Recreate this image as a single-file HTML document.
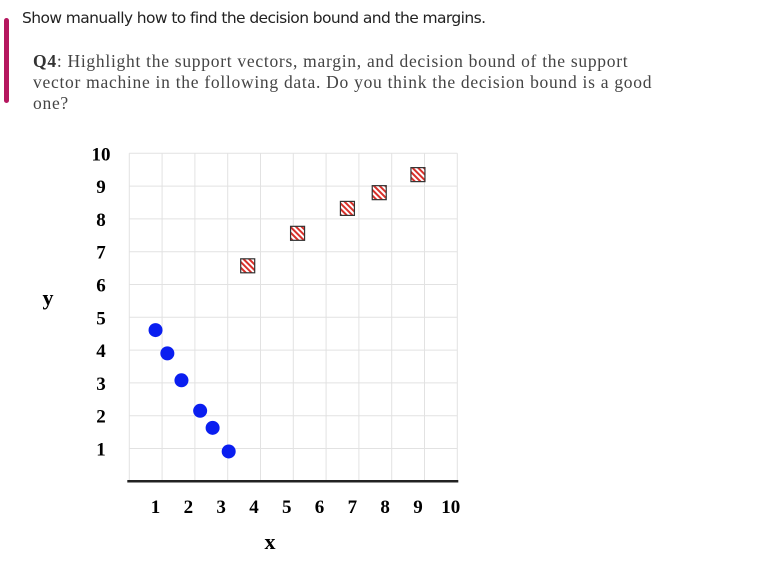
<!DOCTYPE html>
<html><head><meta charset="utf-8"><style>
body{margin:0;width:766px;height:567px;background:#fff;overflow:hidden;position:relative}
.t{position:absolute;white-space:nowrap}
</style></head><body>
<div style="position:absolute;left:4px;top:18px;width:5px;height:85px;background:#b5175f;border-radius:3px"></div>
<div class="t" style="left:22px;top:9px;font:15.5px 'DejaVu Sans',sans-serif;letter-spacing:-0.6px;color:#222">Show manually how to find the decision bound and the margins.</div>
<div class="t" style="left:33px;top:51px;font:17.5px/21px 'Liberation Serif',serif;color:#444;letter-spacing:0.72px"><b style="color:#333">Q4</b>: Highlight the support vectors, margin, and decision bound of the support<br>vector machine in the following data. Do you think the decision bound is a good<br>one?</div>
<svg id="chart" width="766" height="567" style="position:absolute;left:0;top:0">
<defs><pattern id="st" width="4" height="4" patternUnits="userSpaceOnUse" patternTransform="rotate(-45)"><rect width="4" height="4" fill="#fff"/><rect width="2" height="4" fill="#d8302a"/></pattern></defs>
<g id="g"></g>
<text x="48" y="305" font-family="Liberation Serif,serif" font-size="22" font-weight="bold" text-anchor="middle">y</text>
<text x="270" y="549" font-family="Liberation Serif,serif" font-size="22" font-weight="bold" text-anchor="middle">x</text>
</svg>
<script>
const blueX=[0.80,1.16,1.59,2.16,2.54,3.03];
const blueY=[4.61,3.90,3.08,2.15,1.63,0.91];
const redX=[3.61,5.13,6.65,7.62,8.80];
const redY=[6.57,7.56,8.32,8.80,9.35];
const ticks=[1,2,3,4,5,6,7,8,9,10];
const NS='http://www.w3.org/2000/svg';
const g=document.getElementById('g');
const sx=v=>129.3+v*32.8, sy=v=>481.3-v*32.8;
function mk(t,a){const e=document.createElementNS(NS,t);for(const k in a)e.setAttribute(k,a[k]);g.appendChild(e);return e;}
for(let i=0;i<=10;i++){
  const v=mk('line',{x1:sx(i),x2:sx(i),y1:sy(10),y2:sy(0),stroke:'#e2e2e2','stroke-width':1});
  
  
  if(i>0){const h=mk('line',{x1:sx(0),x2:sx(10),y1:sy(i),y2:sy(i),stroke:'#e2e2e2','stroke-width':1});
  
  }
}
const ax=mk('line',{x1:sx(0)-2,x2:sx(10)+1,y1:sy(0),y2:sy(0),stroke:'#222','stroke-width':2.5});


ticks.forEach(t=>{
  const a=mk('text',{x:sx(t-0.2),y:513,'text-anchor':'middle','font-family':'Liberation Serif,serif','font-size':19,'font-weight':'bold'});a.textContent=t;
  
  
  const b=mk('text',{x:101,y:sy(t)+7,'text-anchor':'middle','font-family':'Liberation Serif,serif','font-size':19,'font-weight':'bold'});b.textContent=t;
  
  
});
blueX.forEach((x,i)=>{const c=mk('circle',{cx:sx(x),cy:sy(blueY[i]),r:7,fill:'#0a1ef0'});
  
  });
redX.forEach((x,i)=>{const r=mk('rect',{x:sx(x)-7,y:sy(redY[i])-7,width:14,height:14,fill:'url(#st)',stroke:'#333','stroke-width':1.2});
  
  });
</script>
</body></html>
